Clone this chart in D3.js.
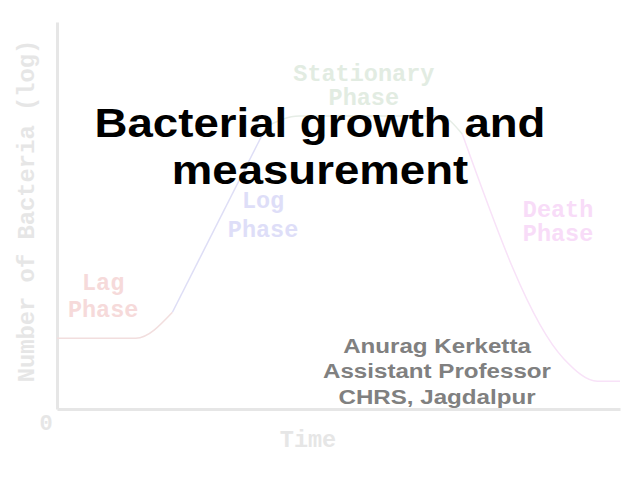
<!DOCTYPE html>
<html>
<head>
<meta charset="utf-8">
<script src="https://cdn.jsdelivr.net/npm/d3@7"></script>
<style>
  html, body { margin: 0; padding: 0; background: #fff; }
  svg { display: block; }
</style>
</head>
<body>
<svg id="chart" width="640" height="480"></svg>
<script>
// growth curve (time units, log count units)
const growthTime = [0, 1.4, 2.05, 3.72, 4.3, 6.8, 7.2, 9.0, 9.6, 10];
const growthLog  = [1.83, 1.83, 2.5, 7.3, 7.57, 7.57, 7.1, 1.3, 0.72, 0.72];

// phase name, first and last point index of its segment
const phaseNames = ["Lag", "Log", "Stationary", "Death"];
const phaseStart = [0, 2, 3, 6];
const phaseEnd   = [2, 3, 6, 9];
const phaseLine  = ["#f2dede", "#dedef6", "#e6ede6", "#f8e2f8"];
const phaseText  = ["#f6dada", "#dedef8", "#e2ece2", "#f8dcf8"];
// label anchor in data units (baseline of first line)
const labelTime = [0.82, 3.66, 5.45, 8.9];
const labelLog  = [3.07, 5.19, 8.47, 4.96];
const labelGap  = [27, 29, 24, 24];

const titleLines = ["Bacterial growth and", "measurement"];
const authorLines = ["Anurag Kerketta", "Assistant Professor", "CHRS, Jagdalpur"];

const W = 640, H = 480, M = {t:22, r:20, b:71, l:57};
const svg = d3.select("#chart");

const x = d3.scaleLinear().domain([0, 10]).range([M.l, W - M.r]);
const y = d3.scaleLinear().domain([0, 10]).range([H - M.b, M.t]);

const axisColor = "#e6e6e6";
const mono = "'Liberation Mono', 'Courier New', monospace";
const sans = "'Liberation Sans', Arial, sans-serif";

// axes, no ticks
const xAxis = svg.append("g").attr("transform", `translate(0,${y(0)})`)
  .call(d3.axisBottom(x).tickValues([]).tickSizeOuter(0));
const yAxis = svg.append("g").attr("transform", `translate(${x(0)},0)`)
  .call(d3.axisLeft(y).tickValues([]).tickSizeOuter(0));
[xAxis, yAxis].forEach(a => a.select(".domain")
  .attr("stroke", axisColor).attr("stroke-width", 3));

svg.append("text")
  .attr("x", x(0) - 11).attr("y", y(0) + 21)
  .attr("text-anchor", "middle")
  .attr("font-family", mono).attr("font-weight", "bold").attr("font-size", 22)
  .attr("fill", axisColor).text("0");

svg.append("text")
  .attr("x", 308).attr("y", 447)
  .attr("text-anchor", "middle")
  .attr("font-family", mono).attr("font-weight", "bold").attr("font-size", 23.5)
  .attr("fill", axisColor).text("Time");

svg.append("text")
  .attr("transform", "translate(34,211) rotate(-90)")
  .attr("text-anchor", "middle")
  .attr("font-family", mono).attr("font-weight", "bold").attr("font-size", 23.8)
  .attr("fill", axisColor).text("Number of Bacteria (log)");

// curve, one path per phase
const pts = growthTime.map((t, i) => [t, growthLog[i]]);
const line = d3.line().x(d => x(d[0])).y(d => y(d[1])).curve(d3.curveMonotoneX);

phaseNames.forEach((name, i) => {
  svg.append("path")
    .datum(pts.slice(phaseStart[i], phaseEnd[i] + 1))
    .attr("d", line)
    .attr("fill", "none")
    .attr("stroke", phaseLine[i])
    .attr("stroke-width", 1.5);

  const lbl = svg.append("text")
    .attr("text-anchor", "middle")
    .attr("font-family", mono).attr("font-weight", "bold").attr("font-size", 23.5)
    .attr("fill", phaseText[i]);
  [name, "Phase"].forEach((s, k) => lbl.append("tspan")
    .attr("x", x(labelTime[i])).attr("y", y(labelLog[i]) + k * labelGap[i]).text(s));
});

// title (the slide font is wider than Liberation Sans, so stretch it)
svg.append("g").selectAll("text").data(titleLines).join("text")
  .attr("transform", (d, i) => `translate(320,${137 + i * 47}) scale(1.14,1)`)
  .attr("text-anchor", "middle")
  .attr("font-family", sans)
  .attr("font-weight", "bold").attr("font-size", 40)
  .attr("fill", "#000").text(d => d);

// author block
svg.append("g").selectAll("text").data(authorLines).join("text")
  .attr("transform", (d, i) => `translate(437,${353 + i * 25.3}) scale(1.15,1)`)
  .attr("text-anchor", "middle")
  .attr("font-family", sans)
  .attr("font-weight", "bold").attr("font-size", 21)
  .attr("fill", "#808080").text(d => d);
</script>
</body>
</html>
